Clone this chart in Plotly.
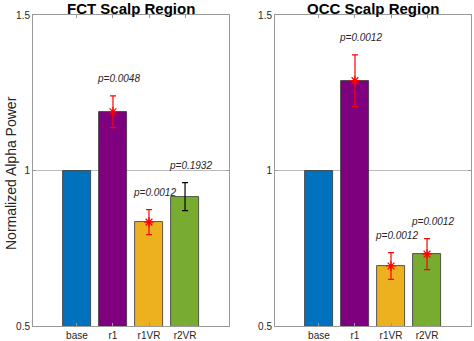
import plotly.graph_objects as go

categories = ["base", "r1", "r1VR", "r2VR"]
bar_colors = ["#0072BD", "#7E007E", "#EDB120", "#77AC30"]

fct_values = [1.0, 1.189, 0.834, 0.916]
fct_err = [None, 0.051, 0.040, 0.045]
fct_sig = [False, True, True, False]
fct_pvals = [None, "p=0.0048", "p=0.0012", "p=0.1932"]

occ_values = [1.0, 1.289, 0.693, 0.731]
occ_err = [None, 0.083, 0.043, 0.050]
occ_sig = [False, True, True, True]
occ_pvals = [None, "p=0.0012", "p=0.0012", "p=0.0012"]

titles = ["FCT Scalp Region", "OCC Scalp Region"]
yticks = [0.5, 1, 1.5]

W, H = 474, 341
domains_x = [[33 / W, 229 / W], [275 / W, 471 / W]]
domain_y = [1 - 326 / H, 1 - 15 / H]

fig = go.Figure()
xs = [1, 2, 3, 4]
FONT = "Liberation Sans, Arial, sans-serif"
annotations = []

for i, (vals, errs, sig, pv) in enumerate([
    (fct_values, fct_err, fct_sig, fct_pvals),
    (occ_values, occ_err, occ_sig, occ_pvals),
]):
    xa = "x" if i == 0 else "x2"
    ya = "y" if i == 0 else "y2"
    fig.add_trace(go.Bar(
        x=xs, y=vals, base=0, width=0.8,
        marker=dict(color=bar_colors, line=dict(color="#333333", width=0.8)),
        xaxis=xa, yaxis=ya, showlegend=False,
    ))
    for k in range(1, 4):
        col = "#FF0000" if sig[k] else "#000000"
        fig.add_trace(go.Scatter(
            x=[xs[k]], y=[vals[k]], mode="markers" if sig[k] else "none",
            marker=dict(symbol="asterisk-open", color=col, size=8,
                        line=dict(color=col, width=1.2)),
            error_y=dict(type="data", array=[errs[k]], color=col,
                         thickness=1.2, width=3),
            xaxis=xa, yaxis=ya, showlegend=False,
        ))
        top = vals[k] + errs[k]
        annotations.append(dict(
            x=xs[k] + 0.15, y=top + 0.056, xref=xa, yref=ya,
            text=f"<i>{pv[k]}</i>", showarrow=False,
            font=dict(size=10, color="#262626", family=FONT),
            xanchor="center", yanchor="middle",
        ))
    annotations.append(dict(
        x=(domains_x[i][0] + domains_x[i][1]) / 2, y=1 - 9 / H,
        xref="paper", yref="paper", text=f"<b>{titles[i]}</b>",
        showarrow=False, font=dict(size=15, color="#000000", family=FONT),
        xanchor="center", yanchor="middle",
    ))

annotations.append(dict(
    x=11 / W, y=1 - 173 / H, xref="paper", yref="paper",
    text="Normalized Alpha Power", textangle=-90, showarrow=False,
    font=dict(size=14, color="#262626", family=FONT),
    xanchor="center", yanchor="middle",
))

axis_common = dict(showline=True, linecolor="#999999", linewidth=1,
                   mirror="ticks", ticks="inside", ticklen=3,
                   tickcolor="#999999", automargin=False,
                   tickfont=dict(size=10, color="#262626", family=FONT))

xaxis_cfg = dict(range=[-0.22, 5.22], tickvals=xs, ticktext=categories,
                 showgrid=False, zeroline=False, ticklabelstandoff=0,
                 **axis_common)
yaxis_cfg = dict(range=[0.5, 1.5], tickvals=yticks,
                 ticktext=["0.5", "1", "1.5"], showgrid=True,
                 gridcolor="#bbbbbb", gridwidth=1, zeroline=False,
                 **axis_common)

fig.update_layout(
    width=W, height=H, margin=dict(l=0, r=0, t=0, b=0),
    paper_bgcolor="white", plot_bgcolor="white",
    xaxis=dict(domain=domains_x[0], anchor="y", **xaxis_cfg),
    yaxis=dict(domain=domain_y, anchor="x", **yaxis_cfg),
    xaxis2=dict(domain=domains_x[1], anchor="y2", **xaxis_cfg),
    yaxis2=dict(domain=domain_y, anchor="x2", **yaxis_cfg),
    annotations=annotations, bargap=0,
)

fig.write_html("out.html")
